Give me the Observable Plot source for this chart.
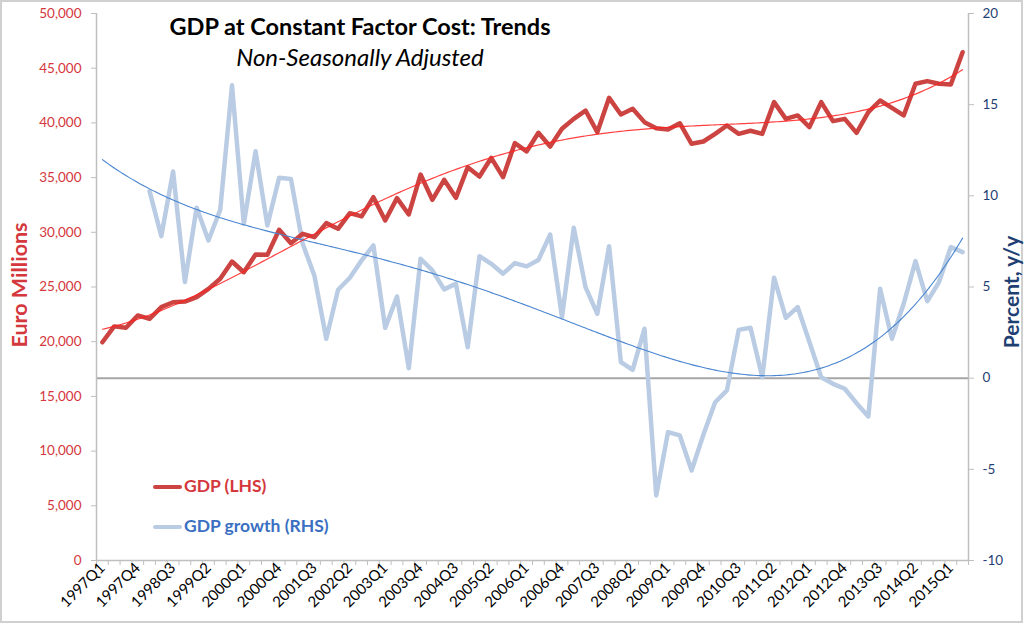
<!DOCTYPE html>
<html><head><meta charset="utf-8">
<script src="https://cdn.jsdelivr.net/npm/d3@7"></script>
<script src="https://cdn.jsdelivr.net/npm/@observablehq/plot@0.6"></script>
<style>
body{margin:0;background:#fff;}
#wrap{position:relative;width:1026px;height:627px;font-family:Lato,"Open Sans",sans-serif;overflow:hidden;background:#fff;}
.abs{position:absolute;white-space:nowrap;}
</style></head><body><div id="wrap"></div>
<script>
// Categories: quarters 1997Q1 .. 2015Q2
const startYear = 1997;
const quarters = d3.range(74).map(i => `${startYear + Math.floor(i / 4)}Q${(i % 4) + 1}`);
// Tick labels shown every third quarter
const tickLabels = ["1997Q1","1997Q4","1998Q3","1999Q2","2000Q1","2000Q4","2001Q3","2002Q2","2003Q1","2003Q4","2004Q3","2005Q2","2006Q1","2006Q4","2007Q3","2008Q2","2009Q1","2009Q4","2010Q3","2011Q2","2012Q1","2012Q4","2013Q3","2014Q2","2015Q1"];

// GDP at constant factor cost, euro millions (LHS)
const gdp = [
  19950, 21400, 21270, 22400, 22090, 23160, 23610, 23670, 24070, 24830,
  25750, 27330, 26350, 27970, 27940, 30230, 29000, 29860, 29560, 30840,
  30320, 31750, 31450, 33210, 31080, 33120, 31630, 35280, 32970, 34800,
  33150, 35950, 35100, 36810, 35040, 38150, 37390, 39100, 37840, 39460,
  40370, 41130, 39150, 42290, 40770, 41290, 40070, 39520, 39400, 39970,
  38090, 38300, 39000, 39760, 39000, 39280, 39000, 41900, 40370, 40680,
  39610, 41900, 40160, 40370, 39090, 40980, 42050, 41380, 40680, 43580,
  43820, 43580, 43510, 46460
];
// GDP growth, percent y/y (RHS)
const growth = [
  null, null, null, null,
  10.26, 7.79, 11.34, 5.27, 9.35, 7.55, 9.24, 16.06, 8.47, 12.44, 8.38, 10.99, 10.92, 7.37, 5.6, 2.16,
  4.85, 5.51, 6.46, 7.28, 2.76, 4.48, 0.55, 6.55, 5.91, 4.87,
  5.18, 1.70, 6.69, 6.27, 5.73, 6.31, 6.13, 6.48, 7.88, 3.35,
  8.25, 4.99, 3.53, 7.24, 0.88, 0.46, 2.71, -6.43, -2.96, -3.14,
  -5.06, -3.1, -1.32, -0.67, 2.65, 2.76, 0.05, 5.51, 3.31, 3.90,
  1.98, 0.05, -0.31, -0.58, -1.37, -2.10, 4.90, 2.16, 4.08, 6.42,
  4.22, 5.27, 7.19, 6.91
];

const leftTicks = d3.range(0, 50001, 5000);
const rightTicks = d3.range(-10, 21, 5);
const L = [0, 50000], R = [-10, 20];
const toL = g => (g - R[0]) / (R[1] - R[0]) * (L[1] - L[0]) + L[0];
const fromL = v => (v - L[0]) / (L[1] - L[0]) * (R[1] - R[0]) + R[0];

const N = quarters.length;
const data = quarters.map((q, i) => ({q, i, x: i + 0.5, gdp: gdp[i], g: growth[i]}));

// order-4 polynomial trendlines (least squares), as in the spreadsheet chart
function polyfit(xs, ys, deg) {
  const n = deg + 1;
  const A = Array.from({length: n}, () => Array(n + 1).fill(0));
  xs.forEach((x, k) => {
    for (let r = 0; r < n; r++) {
      for (let c = 0; c < n; c++) A[r][c] += Math.pow(x, r + c);
      A[r][n] += ys[k] * Math.pow(x, r);
    }
  });
  for (let p = 0; p < n; p++) {
    let m = p;
    for (let r = p + 1; r < n; r++) if (Math.abs(A[r][p]) > Math.abs(A[m][p])) m = r;
    [A[p], A[m]] = [A[m], A[p]];
    for (let r = 0; r < n; r++) if (r !== p) {
      const f = A[r][p] / A[p][p];
      for (let c = p; c <= n; c++) A[r][c] -= f * A[p][c];
    }
  }
  const coef = A.map((row, r) => row[n] / row[r]);
  return x => coef.reduce((s, c, k) => s + c * Math.pow(x, k), 0);
}
const sc = i => (i + 1) / N;
const gdpFit = polyfit(data.map(d => sc(d.i)), data.map(d => d.gdp), 4);
const gData = data.filter(d => d.g != null);
const gFit = polyfit(gData.map(d => sc(d.i)), gData.map(d => d.g), 4);
const trendSteps = d3.range(0, N - 1 + 0.001, 0.25);
const gdpTrend = trendSteps.map(t => ({x: t + 0.5, y: gdpFit(sc(t))}));
const gTrend = trendSteps.map(t => ({x: t + 0.5, y: toL(gFit(sc(t)))}));

const gray = "#a6a6a6";
const axisGray = "#bfbfbf";
const red = "#d4373c";
const navy = "#1f3f73";

const chart = Plot.plot({
  width: 1026, height: 627,
  marginLeft: 96, marginRight: 58, marginTop: 13, marginBottom: 67,
  x: {domain: [0, N], axis: null},
  y: {domain: L, axis: null},
  style: {fontFamily: "Lato, 'Open Sans', sans-serif", background: "white"},
  marks: [
    Plot.ruleY([toL(0)], {stroke: gray, strokeWidth: 2}),
    Plot.ruleX([0], {stroke: axisGray, strokeWidth: 1.5}),
    Plot.ruleX([N], {stroke: axisGray, strokeWidth: 1.5}),
    Plot.ruleY([0], {stroke: axisGray, strokeWidth: 1.5}),
    Plot.axisY(leftTicks, {anchor: "left", tickSize: 5, tickFormat: () => "", stroke: axisGray, label: null}),
    Plot.axisY(leftTicks, {anchor: "left", tickSize: 0, tickPadding: 15, tickFormat: d3.format(","), fill: red, fontSize: 13.5, label: null}),
    Plot.axisY(rightTicks.map(toL), {anchor: "right", tickSize: 5, tickFormat: () => "", stroke: axisGray, label: null}),
    Plot.axisY(rightTicks.map(toL), {anchor: "right", tickSize: 0, tickPadding: 14, tickFormat: v => String(Math.round(fromL(v))), fill: navy, fontSize: 13.5, label: null}),
    Plot.axisX(d3.range(0, N + 1), {tickSize: 5, tickFormat: () => "", stroke: axisGray, label: null}),
    Plot.axisX(tickLabels.map(t => quarters.indexOf(t) + 0.5), {tickSize: 0, tickPadding: 5, tickRotate: -45, tickFormat: v => quarters[v - 0.5], fill: "#000", fontSize: 15, label: null}),
    Plot.line(gData, {x: "x", y: d => toL(d.g), stroke: "#b9cce4", strokeWidth: 4.5, strokeLinejoin: "round"}),
    Plot.line(data, {x: "x", y: "gdp", stroke: "#cc4441", strokeWidth: 4.5, strokeLinejoin: "round"}),
    Plot.line(gTrend, {x: "x", y: "y", stroke: "#4a86d0", strokeWidth: 1.1, curve: "natural"}),
    Plot.line(gdpTrend, {x: "x", y: "y", stroke: "#ff2020", strokeWidth: 1.2, strokeOpacity: 0.85, curve: "natural"})
  ]
});
const wrap = document.getElementById("wrap");
wrap.appendChild(chart);

function add(html, style) {
  const d = document.createElement("div");
  d.className = "abs";
  d.innerHTML = html;
  Object.assign(d.style, style);
  wrap.appendChild(d);
  return d;
}
add("", {left: "0px", top: "0px", width: "1023px", height: "623px", border: "2px solid #d0d0d0", boxSizing: "border-box"});
add("GDP at Constant Factor Cost: Trends", {left: "0px", width: "720px", textAlign: "center", top: "12px", fontSize: "23.5px", fontWeight: "bold", color: "#000"});
add("Non-Seasonally Adjusted", {left: "0px", width: "720px", textAlign: "center", top: "42px", fontSize: "24px", fontStyle: "italic", color: "#000"});
add("Euro Millions", {left: "19px", top: "285px", fontSize: "21.5px", fontWeight: "bold", color: red, transform: "translate(-50%,-50%) rotate(-90deg)"});
add("Percent, y/y", {left: "1010px", top: "292px", fontSize: "21px", fontWeight: "bold", color: navy, transform: "translate(-50%,-50%) rotate(-90deg)"});
// legend
add("", {left: "153px", top: "485px", width: "29px", height: "4px", background: "#cc4441", borderRadius: "2px"});
add("GDP (LHS)", {left: "184px", top: "475px", fontSize: "17.5px", fontWeight: "bold", color: red});
add("", {left: "153px", top: "525px", width: "29px", height: "4px", background: "#b9cce4", borderRadius: "2px"});
add("GDP growth (RHS)", {left: "184px", top: "515px", fontSize: "17.5px", fontWeight: "bold", color: "#3b6fc2"});
</script></body></html>
